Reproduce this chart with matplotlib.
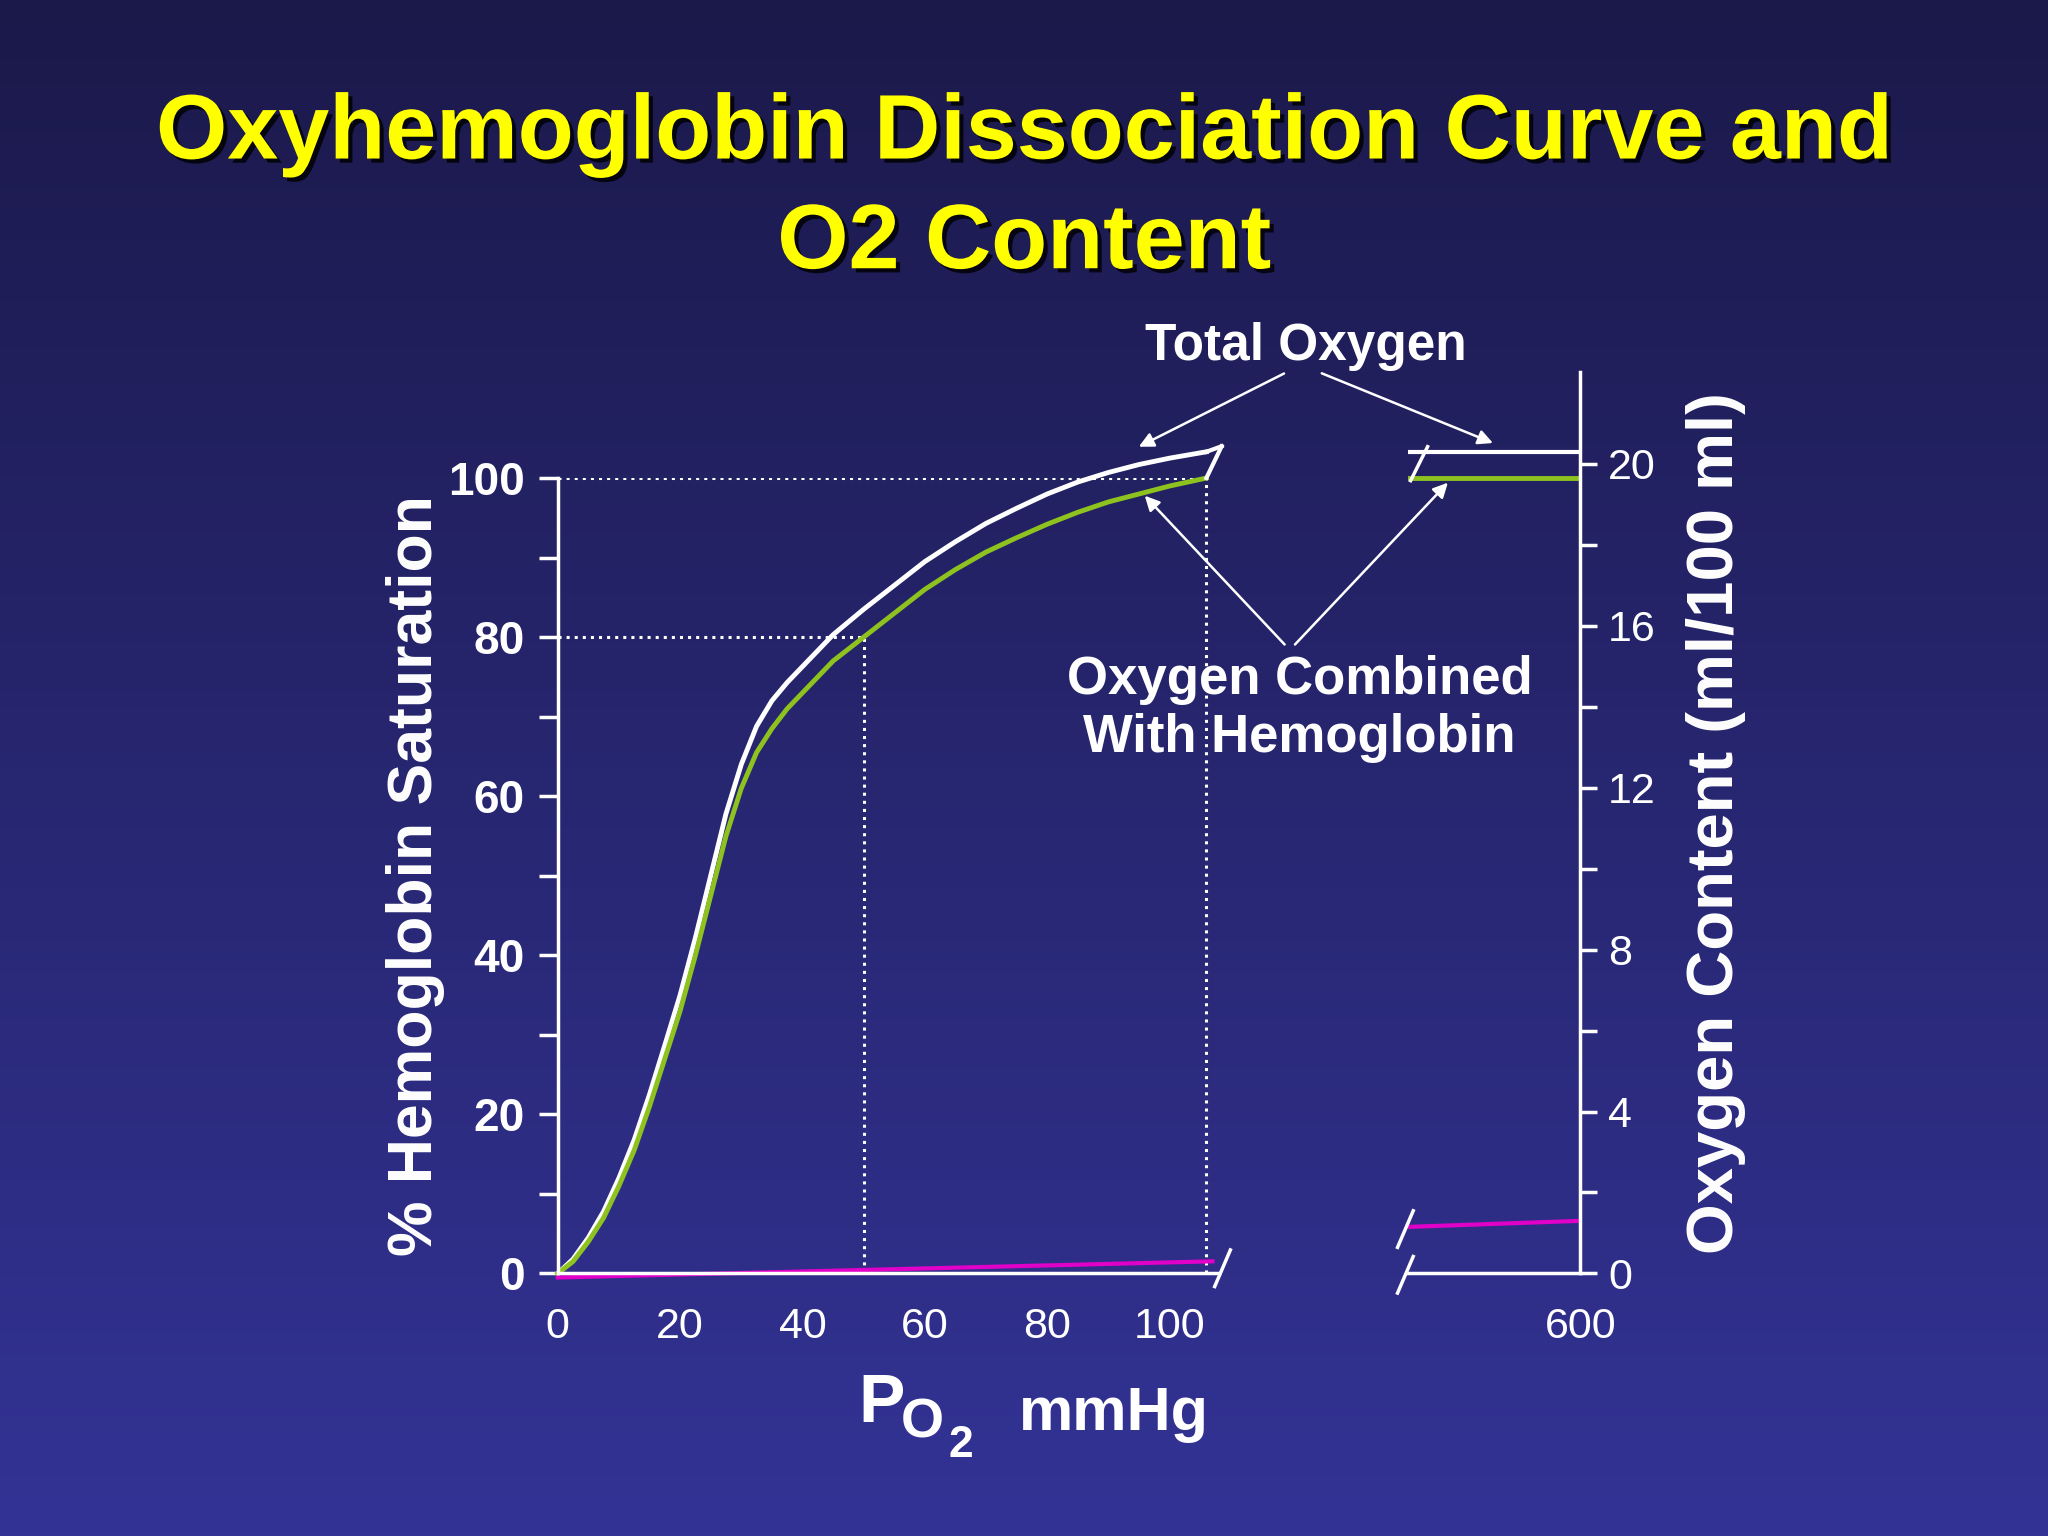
import matplotlib
matplotlib.use("Agg")
import matplotlib.pyplot as plt
import numpy as np
from matplotlib.lines import Line2D
import matplotlib.patheffects as pe

po2 = [0, 2.5, 5, 7.5, 10, 12.5, 15, 17.5, 20, 22.5, 25, 27.5, 30, 32.5, 35, 37.5, 40, 45, 50,
       55, 60, 65, 70, 75, 80, 85, 90, 95, 100, 106]
hb_sat = [0, 1.5, 4, 7, 11, 15.5, 21, 27, 33, 40, 47.5, 55, 61, 65.5, 68.5, 71, 73, 77, 80,
          83, 86, 88.5, 90.7, 92.5, 94.2, 95.7, 97, 98, 99, 100]
total_sat = [0, 1.8, 4.5, 7.8, 12, 16.8, 22.5, 28.7, 35, 42.2, 50, 57.8, 64, 68.8, 72, 74.3, 76.3, 80.3, 83.5,
             86.5, 89.5, 92, 94.3, 96.2, 98, 99.5, 100.7, 101.7, 102.5, 103.3]
dissolved_po2 = [0, 107]
dissolved_ml = [-0.1, 0.3]
right_x = [575, 600]
right_hb = [19.65, 19.65]
right_total = [20.3, 20.3]
right_diss = [1.15, 1.3]
x_ticks = [0, 20, 40, 60, 80, 100]
y_ticks = [0, 20, 40, 60, 80, 100]
r_ticks = [0, 4, 8, 12, 16, 20]

W, H = 1568, 1176
def fx(p): return p / W
def fy(p): return 1 - p / H

fig = plt.figure(figsize=(20.48, 15.36), dpi=100)
bg = fig.add_axes([0, 0, 1, 1]); bg.set_axis_off()
grad = np.linspace(0, 1, 256).reshape(-1, 1)
c1 = np.array([0x1b, 0x19, 0x4a]) / 255; c2 = np.array([0x33, 0x33, 0x96]) / 255
img = c1 + (c2 - c1) * grad[..., None] * np.ones((1, 1, 3))
bg.imshow(img, aspect='auto', extent=[0, 1, 0, 1], origin='upper')
bg.set_xlim(0, 1); bg.set_ylim(0, 1)

F = 'Liberation Sans'
shadow = [pe.withSimplePatchShadow(offset=(3, -3), shadow_rgbFace='black', alpha=0.8)]
fig.text(0.5, fy(103), "Oxyhemoglobin Dissociation Curve and", color='#ffff00', fontsize=66,
         fontweight='bold', family=F, ha='center', va='center', path_effects=shadow)
fig.text(0.5, fy(187), "O2 Content", color='#ffff00', fontsize=66,
         fontweight='bold', family=F, ha='center', va='center', path_effects=shadow)

# left axes
x0, x1 = 427, 933
ax = fig.add_axes([fx(x0), fy(975), fx(x1) - fx(x0), (975 - 366) / H])
ax.set_facecolor('none')
ax.set_xlim(0, 108); ax.set_ylim(0, 100)
for s in ['top', 'right']: ax.spines[s].set_visible(False)
for s in ['left', 'bottom']: ax.spines[s].set_color('white'); ax.spines[s].set_linewidth(2.5)
ax.set_yticks(y_ticks); ax.set_yticks(range(0, 101, 10), minor=True)
ax.set_yticklabels([str(v) for v in y_ticks], color='white', fontsize=33, fontweight='bold', family=F)
ax.tick_params(axis='y', which='both', colors='white', length=14, width=2.5, pad=10)
ax.set_xticks(x_ticks)
ax.set_xticklabels([str(v) for v in x_ticks], color='white', fontsize=31, family=F)
ax.tick_params(axis='x', length=0, pad=24)
ax.plot([0, 106], [100, 100], color='white', ls=':', lw=2.2)
ax.plot([106, 106], [0, 100], color='white', ls=':', lw=2.2)
ax.plot([0, 50], [80, 80], color='white', ls=':', lw=2.2)
ax.plot([50, 50], [0, 80], color='white', ls=':', lw=2.2)
ax.plot(po2, total_sat, color='white', lw=3.5, clip_on=False, solid_joinstyle='round')
ax.plot(po2, hb_sat, color='#8dc21f', lw=3.5, clip_on=False, solid_joinstyle='round')
ax.plot(dissolved_po2, [v / 19.65 * 100 for v in dissolved_ml], color='#e000c8', lw=3, clip_on=False)
ax.plot([106, 108.5], [100, 104], color='white', lw=3, clip_on=False)
ax.plot([106, 108.5], [103.3, 104], color='white', lw=3, clip_on=False)
ax.set_ylabel("% Hemoglobin Saturation", color='white', fontsize=45,
              fontweight='bold', family=F, labelpad=2)

# right axes
rx0, rx1 = 1078, 1210
ax2 = fig.add_axes([fx(rx0), fy(975), fx(rx1) - fx(rx0), (975 - 285) / H])
ax2.set_facecolor('none')
ax2.set_xlim(575, 600); ax2.set_ylim(0, 22.26)
for s in ['top', 'left']: ax2.spines[s].set_visible(False)
for s in ['right', 'bottom']: ax2.spines[s].set_color('white'); ax2.spines[s].set_linewidth(2.5)
ax2.yaxis.tick_right(); ax2.yaxis.set_label_position('right')
ax2.set_yticks(r_ticks); ax2.set_yticks(range(0, 22, 2), minor=True)
ax2.set_yticklabels([str(v) for v in r_ticks], color='white', fontsize=31, family=F)
ax2.tick_params(axis='y', which='both', colors='white', length=12, width=2.5, pad=8)
ax2.set_xticks([600]); ax2.set_xticklabels(['600'], color='white', fontsize=31, family=F)
ax2.tick_params(axis='x', length=0, pad=24)
ax2.plot(right_x, right_total, color='white', lw=3)
ax2.plot(right_x, right_hb, color='#8dc21f', lw=3.5)
ax2.plot(right_x, right_diss, color='#e000c8', lw=3)
ax2.set_ylabel("Oxygen Content (ml/100 ml)", color='white', fontsize=47, fontweight='bold', family=F, labelpad=22)

def fl(xs, ys, **kw):
    fig.add_artist(Line2D([fx(x) for x in xs], [fy(y) for y in ys], color='white', lw=2.5, **kw))
# break marks
fl([930, 942], [985, 957]); fl([1070, 1082], [990, 962]); fl([1070, 1082], [955, 927])
fl([1080, 1093], [368, 342])

# x label
fig.text(fx(657), fy(1075), "P", color='white', fontsize=50, fontweight='bold', family=F, va='center')
fig.text(fx(690), fy(1090), "O", color='white', fontsize=40, fontweight='bold', family=F, va='center')
fig.text(fx(726), fy(1107), "2", color='white', fontsize=32, fontweight='bold', family=F, va='center')
fig.text(fx(780), fy(1083), "mmHg", color='white', fontsize=44, fontweight='bold', family=F, va='center')

# annotations
fig.text(fx(1000), fy(265), "Total Oxygen", color='white', fontsize=37, fontweight='bold', family=F, ha='center', va='center')
fig.text(fx(995), fy(543), "Oxygen Combined\nWith Hemoglobin", color='white', fontsize=38, fontweight='bold',
         family=F, ha='center', va='center', linespacing=1.2)
ap = dict(arrowstyle='-|>', color='white', lw=1.8, mutation_scale=22)
for (a, b) in [((985, 285), (870, 343)), ((1010, 285), (1145, 340)),
               ((985, 495), (875, 378)), ((990, 495), (1110, 368))]:
    bg.annotate("", xy=(fx(b[0]), fy(b[1])), xytext=(fx(a[0]), fy(a[1])),
                xycoords='axes fraction', arrowprops=ap)

fig.savefig("out.png", dpi=100)
